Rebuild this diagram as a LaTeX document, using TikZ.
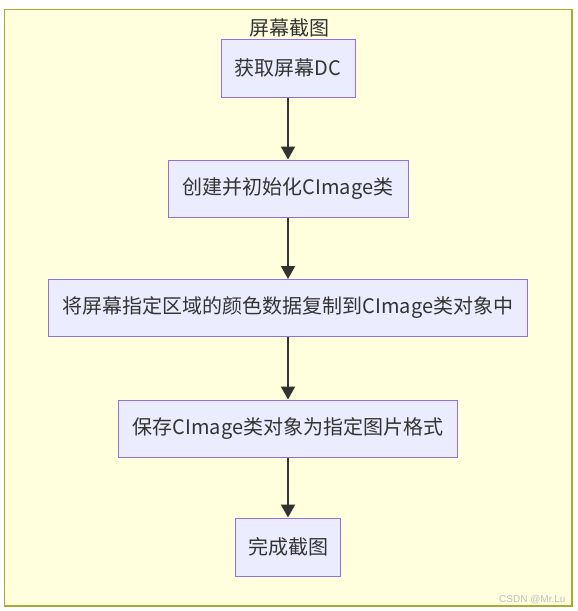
\documentclass[tikz,border=0pt]{standalone}
\usepackage{fontspec}
\newfontfamily\cjk{Noto Sans CJK SC}
\newfontfamily\wm{Liberation Sans}
\usetikzlibrary{arrows.meta}
\definecolor{clfill}{HTML}{FFFFDE}
\definecolor{clstroke}{HTML}{AAAA33}
\definecolor{nfill}{HTML}{ECECFF}
\definecolor{nstroke}{HTML}{9370DB}
\definecolor{txt}{HTML}{333333}
\begin{document}
\begin{tikzpicture}[x=1pt,y=-1pt,
  flowbox/.style={draw=nstroke, fill=nfill, line width=1pt, inner sep=0pt, text=txt,
    font=\cjk\fontsize{20}{22}\selectfont},
  flowarrow/.style={draw=txt, line width=2.2pt, -{Triangle[width=14pt 0,length=13pt 0]}}]
\useasboundingbox (0,0) rectangle (578,611);
\draw[draw=clstroke, fill=clfill, line width=1.5pt] (4.5,9.5) rectangle (572,606);
\node[text=txt, font=\cjk\fontsize{20}{22}\selectfont] (title) at (289,28) {屏幕截图};
\node[flowbox, minimum width=134pt, minimum height=58pt] (a) at (288,68) {获取屏幕DC};
\node[flowbox, minimum width=240pt, minimum height=57pt] (b) at (288,188.5) {创建并初始化CImage类};
\node[flowbox, minimum width=479pt, minimum height=57pt] (c) at (288,308) {将屏幕指定区域的颜色数据复制到CImage类对象中};
\node[flowbox, minimum width=339pt, minimum height=57pt] (d) at (288,428.5) {保存CImage类对象为指定图片格式};
\node[flowbox, minimum width=105pt, minimum height=58pt] (e) at (288,547) {完成截图};
\draw[flowarrow] (a) -- (b);
\draw[flowarrow] (b) -- (c);
\draw[flowarrow] (c) -- (d);
\draw[flowarrow] (d) -- (e);
\node[anchor=east, text=black!25, font=\wm\fontsize{10}{12}\selectfont] (wmark) at (569,599.5) {CSDN @Mr.Lu};
\end{tikzpicture}
\end{document}
